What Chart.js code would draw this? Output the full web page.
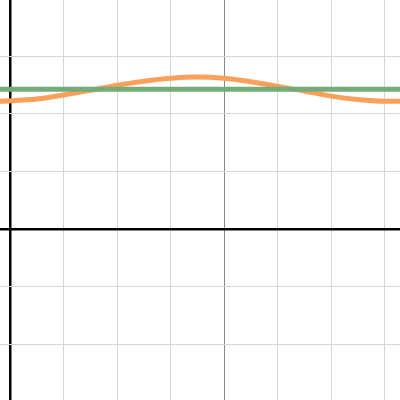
<!DOCTYPE html>
<html>
<head>
<script src="https://cdn.jsdelivr.net/npm/chart.js@4"></script>
<style>
  html, body { margin: 0; padding: 0; background: #fff; }
  #wrap { width: 400px; height: 400px; }
</style>
</head>
<body>
<div id="wrap"><canvas id="graph"></canvas></div>
<script>
// values (grid unit = 1)
const curveX = [-0.2, 0.5, 1.0, 1.5, 2.0, 2.5, 3.0, 3.5, 4.0, 4.5, 5.0, 5.5, 6.0, 6.5, 7.0, 7.3];
const curveY = [2.22, 2.26, 2.33, 2.41, 2.50, 2.57, 2.62, 2.64, 2.62, 2.56, 2.48, 2.40, 2.31, 2.25, 2.22, 2.22];
const flatX = [-0.2, 7.3];
const flatY = [2.43, 2.43];
const xTicks = [0, 1, 2, 3, 4, 5, 6, 7];
const yTicks = [-2, -1, 0, 1, 2, 3];

const xMin = -0.19, xMax = 7.29;
const yMin = -2.97, yMax = 3.98;

const toPoints = (xs, ys) => xs.map((x, i) => ({ x: x, y: ys[i] }));

new Chart(document.getElementById("graph"), {
  type: "line",
  data: {
    datasets: [
      {
        data: toPoints(flatX, flatY),
        borderColor: "#74ab78",
        borderWidth: 5,
        pointRadius: 0
      },
      {
        data: toPoints(curveX, curveY),
        borderColor: "#f9a05a",
        borderWidth: 5,
        pointRadius: 0,
        cubicInterpolationMode: "monotone"
      }
    ]
  },
  options: {
    responsive: true,
    maintainAspectRatio: false,
    animation: false,
    layout: { padding: 0 },
    plugins: { legend: { display: false }, tooltip: { enabled: false } },
    scales: {
      x: {
        type: "linear",
        min: xMin,
        max: xMax,
        afterBuildTicks: s => { s.ticks = xTicks.map(v => ({ value: v })); },
        border: { display: false },
        ticks: { display: false },
        grid: {
          drawTicks: false,
          color: c => c.tick.value === 0 ? "#000" : (c.tick.value === 4 ? "#888" : "#d6d6d6"),
          lineWidth: c => c.tick.value === 0 ? 2.5 : 1
        }
      },
      y: {
        type: "linear",
        min: yMin,
        max: yMax,
        afterBuildTicks: s => { s.ticks = yTicks.map(v => ({ value: v })); },
        border: { display: false },
        ticks: { display: false },
        grid: {
          drawTicks: false,
          color: c => c.tick.value === 0 ? "#000" : "#d6d6d6",
          lineWidth: c => c.tick.value === 0 ? 2.5 : 1
        }
      }
    }
  }
});
</script>
</body>
</html>
